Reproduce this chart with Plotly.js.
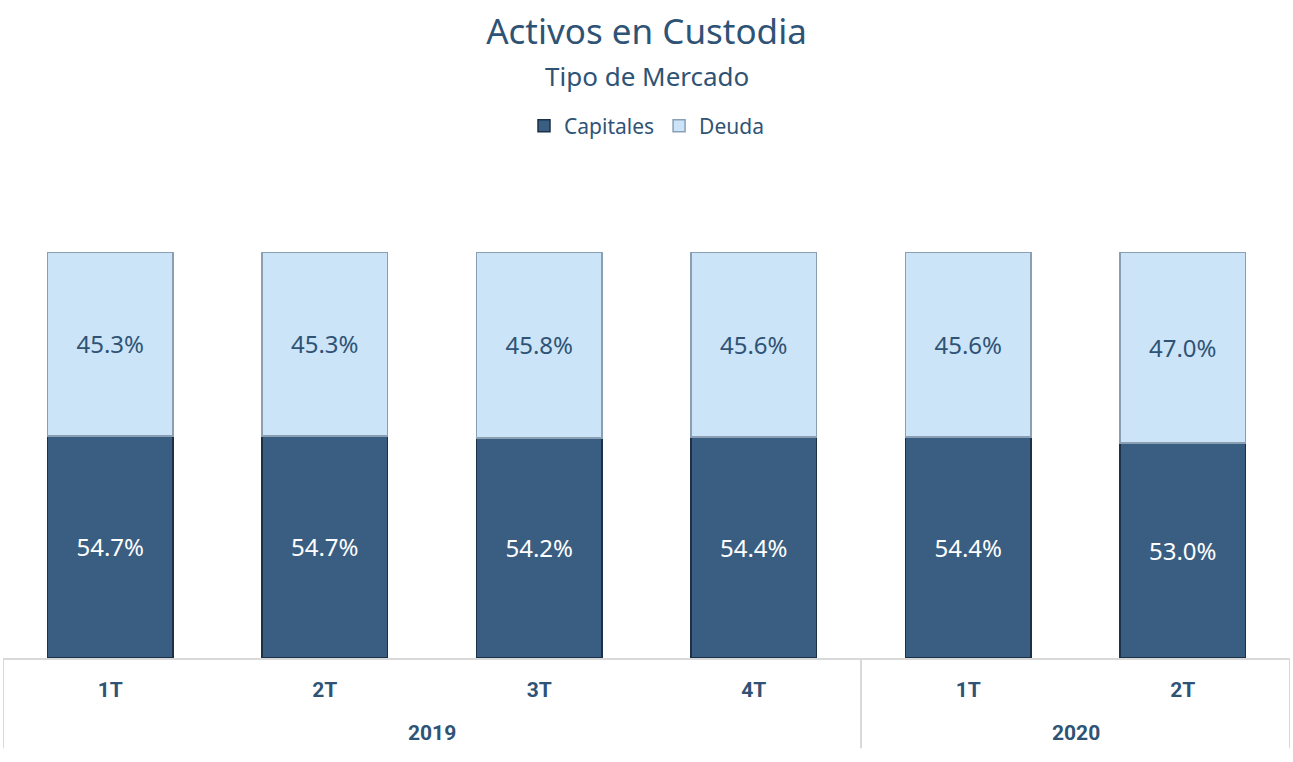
<!DOCTYPE html>
<html>
<head>
<meta charset="utf-8">
<script src="https://cdn.plot.ly/plotly-3.0.1.min.js"></script>
<style>
  html, body { margin: 0; padding: 0; background: #fff; }
  #chart { width: 1293px; height: 762px; }
</style>
</head>
<body>
<div id="chart"></div>
<script>
  // Activos en Custodia, by market type (share of total, %)
  const YEARS = ["2019", "2019", "2019", "2019", "2020", "2020"];
  const QUARTERS = ["1T", "2T", "3T", "4T", "1T", "2T"];
  const CAPITALES = [54.7, 54.7, 54.2, 54.4, 54.4, 53.0];
  const DEUDA = [45.3, 45.3, 45.8, 45.6, 45.6, 47.0];

  const DARK = "#3a5e82";
  const LIGHT = "#cce4f8";
  const INK = "#2f5375";
  const LINE = "#d9d9d9";
  const FONT = "Noto Sans, sans-serif";
  const AXIS_FONT = "Roboto, sans-serif";

  // one slot per quarter; the year row is built from YEARS
  const idx = QUARTERS.map((_, i) => i);

  const groups = [];
  YEARS.forEach((y, i) => {
    const g = groups[groups.length - 1];
    if (g && g.year === y) g.end = i;
    else groups.push({ year: y, start: i, end: i });
  });

  const DIV_BOTTOM = -0.222;   // divider lines run down past the year row
  const shapes = [], annotations = [];
  const edges = [groups[0].start - 0.5].concat(groups.map((g) => g.end + 0.5));
  edges.forEach((e) => shapes.push({
    type: "line", xref: "x", yref: "paper", x0: e, x1: e, y0: 0, y1: DIV_BOTTOM,
    line: { color: LINE, width: 2 },
  }));
  groups.forEach((g) => annotations.push({
    text: "<b>" + g.year + "</b>", showarrow: false,
    xref: "x", yref: "paper", x: (g.start + g.end) / 2, y: -0.185,
    xanchor: "center", yanchor: "middle",
    font: { size: 21, color: INK, family: AXIS_FONT },
  }));
  annotations.push({
    text: "Tipo de Mercado", showarrow: false,
    xref: "paper", yref: "paper", x: 0.5, y: 1.433,
    xanchor: "center", yanchor: "middle",
    font: { size: 26, color: INK, family: FONT },
  });

  const traces = [
    {
      type: "bar", name: "Capitales", x: idx, y: CAPITALES,
      marker: { color: DARK, line: { color: "#1c3147", width: 1.5 } },
      texttemplate: "%{y:.1f}%", textposition: "inside", insidetextanchor: "middle",
      textfont: { color: "#ffffff", size: 24, family: FONT },
      hovertemplate: "%{y:.1f}%<extra>Capitales</extra>",
    },
    {
      type: "bar", name: "Deuda", x: idx, y: DEUDA,
      marker: { color: LIGHT, line: { color: "#8a9fb3", width: 1.5 } },
      texttemplate: "%{y:.1f}%", textposition: "inside", insidetextanchor: "middle",
      textfont: { color: INK, size: 24, family: FONT },
      hovertemplate: "%{y:.1f}%<extra>Deuda</extra>",
    },
  ];

  const layout = {
    width: 1293, height: 762,
    paper_bgcolor: "#ffffff", plot_bgcolor: "#ffffff",
    barmode: "stack", bargap: 0.413,
    margin: { l: 3, r: 3, t: 252, b: 104 },
    font: { family: FONT, color: INK },
    title: {
      text: "Activos en Custodia", x: 0.5, xanchor: "center",
      y: 0.958, yref: "container", yanchor: "middle",
      font: { size: 35, color: INK, family: FONT },
    },
    shapes, annotations,
    showlegend: true,
    legend: {
      orientation: "h", x: 0.5, xanchor: "center", y: 1.31, yanchor: "middle",
      font: { size: 21, color: INK, family: FONT },
      traceorder: "normal",
    },
    xaxis: {
      type: "linear", range: [-0.5, QUARTERS.length - 0.5],
      tickmode: "array", tickvals: idx, ticktext: QUARTERS,
      showline: true, linecolor: LINE, linewidth: 2,
      ticks: "", showgrid: false, zeroline: false,
      ticklabelstandoff: 12,
      tickfont: { size: 21, color: INK, family: AXIS_FONT, weight: "bold" },
    },
    yaxis: {
      range: [0, 100], visible: false, showgrid: false, zeroline: false,
    },
  };

  Plotly.newPlot("chart", traces, layout, { displayModeBar: false, responsive: false });
</script>
</body>
</html>
